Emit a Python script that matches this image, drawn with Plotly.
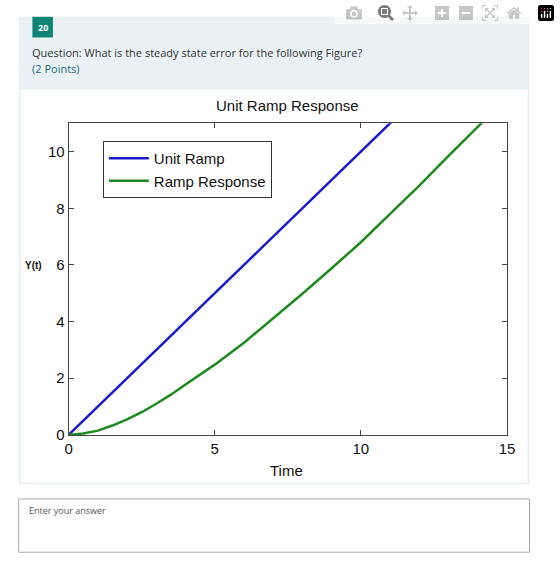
import plotly.graph_objects as go

t = [0, 0.5, 1, 1.5, 2, 2.5, 3, 3.5, 4, 4.5, 5, 6, 7, 8, 9, 10, 11, 12, 13, 14, 15]
ramp = [0, 0.5, 1, 1.5, 2, 2.5, 3, 3.5, 4, 4.5, 5, 6, 7, 8, 9, 10, 11, 12, 13, 14, 15]
resp = [0, 0.05, 0.15, 0.33, 0.55, 0.8, 1.1, 1.42, 1.78, 2.12, 2.48, 3.25, 4.1, 4.98, 5.88, 6.8, 7.8, 8.8, 9.85, 10.9, 11.9]
xticks = [0, 5, 10, 15]
yticks = [0, 2, 4, 6, 8, 10]

W, H = 560, 577
def px(x): return x / W
def py(y): return 1 - y / H

fig = go.Figure()
fig.add_trace(go.Scatter(x=t, y=ramp, mode="lines", name="Unit Ramp",
                         line=dict(color="#1a1acc", width=2.5)))
fig.add_trace(go.Scatter(x=t, y=resp, mode="lines", name="Ramp Response",
                         line=dict(color="#1e8a1e", width=2.5)))

shapes = [
    dict(type="rect", xref="paper", yref="paper", x0=px(15), x1=px(537), y0=py(491), y1=py(17),
         fillcolor="#e9f1f4", line=dict(width=0), layer="below"),
    dict(type="rect", xref="paper", yref="paper", x0=px(17), x1=px(535), y0=py(489), y1=py(91),
         fillcolor="white", line=dict(width=0), layer="below"),
    dict(type="rect", xref="paper", yref="paper", x0=px(29), x1=px(50), y0=py(38), y1=py(17),
         fillcolor="#0e8474", line=dict(width=0), layer="below"),
    dict(type="rect", xref="paper", yref="paper", x0=px(15), x1=px(537), y0=py(560), y1=py(506),
         fillcolor="white", line=dict(color="#a8a8a8", width=1), layer="below"),
]

ann = [
    dict(text="<b>20</b>", x=px(39.5), y=py(27.5), font=dict(color="white", size=9, family="Open Sans")),
    dict(text="Question: What is the steady state error for the following Figure?", x=px(27), y=py(53),
         xanchor="left", font=dict(color="#333", size=11, family="Open Sans")),
    dict(text="(2 Points)", x=px(27), y=py(69), xanchor="left",
         font=dict(color="#1a6e78", size=11, family="Open Sans")),
    dict(text="Unit Ramp Response", x=px(290), y=py(107),
         font=dict(color="#111", size=15, family="Liberation Sans")),
    dict(text="<b>Y(t)</b>", x=px(30), y=py(269), font=dict(color="#111", size=10, family="Liberation Sans")),
    dict(text="Time", x=px(289), y=py(477), font=dict(color="#111", size=15, family="Liberation Sans")),
    dict(text="Enter your answer", x=px(24), y=py(518), xanchor="left",
         font=dict(color="#555", size=9, family="Open Sans")),
]
for a in ann:
    a.update(xref="paper", yref="paper", showarrow=False, xanchor=a.get("xanchor", "center"), yanchor="middle")

fig.update_layout(
    width=W, height=H, margin=dict(l=0, r=0, t=0, b=0),
    paper_bgcolor="white", plot_bgcolor="white",
    shapes=shapes, annotations=ann,
    xaxis=dict(domain=[px(66), px(514)], range=[0, 15], tickvals=xticks, ticks="inside",
               ticklen=5, showline=True, linecolor="#444", mirror="ticks", showgrid=False,
               zeroline=False, tickfont=dict(size=15, family="Liberation Sans", color="#111")),
    yaxis=dict(domain=[py(441), py(125)], range=[0, 11], tickvals=yticks, ticks="inside",
               ticklen=5, showline=True, linecolor="#444", mirror="ticks", showgrid=False,
               zeroline=False, tickfont=dict(size=15, family="Liberation Sans", color="#111")),
    legend=dict(x=px(101), y=py(143), xanchor="left", yanchor="top", bgcolor="white",
                bordercolor="#333", borderwidth=1, font=dict(size=15, family="Liberation Sans", color="#111"),
                tracegroupgap=0, itemwidth=40),
    showlegend=True,
)
fig.write_html("out.html",
               post_script="document.body.style.margin='0';document.body.style.overflow='hidden';")
